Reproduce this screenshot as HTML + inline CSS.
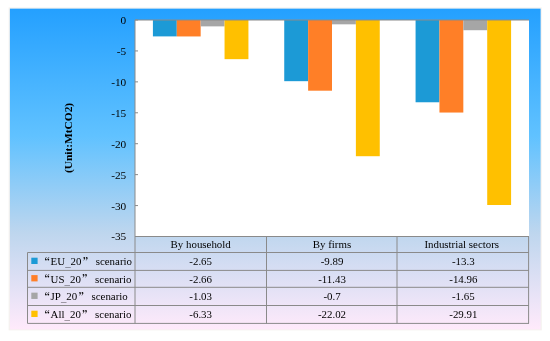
<!DOCTYPE html>
<html><head><meta charset="utf-8"><title>chart</title>
<style>
html,body{margin:0;padding:0;background:#fff;}
body{width:550px;height:341px;overflow:hidden;position:relative;}
svg{position:absolute;left:0;top:0;display:block;}
text{font-family:"Liberation Serif","Noto Serif CJK SC",serif;font-size:10.9px;fill:#000;}
.q{font-family:"Noto Serif CJK SC","Liberation Serif",serif;font-weight:bold;}
.b{font-weight:bold;}
</style></head><body>
<svg width="550" height="341" viewBox="0 0 550 341">
<defs>
<linearGradient id="bg" x1="0" y1="0" x2="0" y2="1">
<stop offset="0" stop-color="#24a0ff"/>
<stop offset="0.4" stop-color="#61c2ff"/>
<stop offset="0.7" stop-color="#bed6ee"/>
<stop offset="1" stop-color="#ffeafb"/>
</linearGradient>
</defs>
<rect x="8.6" y="7.4" width="533.2" height="323" fill="#f5f2ef"/>
<rect x="9.9" y="8.65" width="530.7" height="320.75" fill="url(#bg)"/>

<rect x="135" y="20" width="394" height="216.5" fill="#fff"/>
<rect x="152.91" y="20" width="23.88" height="16.39" fill="#1c9ad6"/>
<rect x="176.79" y="20" width="23.88" height="16.45" fill="#ff7f27"/>
<rect x="200.67" y="20" width="23.88" height="6.37" fill="#a6a6a6"/>
<rect x="224.55" y="20" width="23.88" height="39.16" fill="#ffc000"/>
<rect x="284.24" y="20" width="23.88" height="61.18" fill="#1c9ad6"/>
<rect x="308.12" y="20" width="23.88" height="70.70" fill="#ff7f27"/>
<rect x="332.00" y="20" width="23.88" height="4.33" fill="#a6a6a6"/>
<rect x="355.88" y="20" width="23.88" height="136.21" fill="#ffc000"/>
<rect x="415.58" y="20" width="23.88" height="82.27" fill="#1c9ad6"/>
<rect x="439.45" y="20" width="23.88" height="92.54" fill="#ff7f27"/>
<rect x="463.33" y="20" width="23.88" height="10.21" fill="#a6a6a6"/>
<rect x="487.21" y="20" width="23.88" height="185.01" fill="#ffc000"/>
<g stroke="#8a8a8a" stroke-width="1" fill="none">
<line x1="135" y1="20" x2="529" y2="20"/>
<line x1="135" y1="20" x2="135" y2="323.4"/>
<line x1="135" y1="20.00" x2="138" y2="20.00"/>
<line x1="135" y1="50.93" x2="138" y2="50.93"/>
<line x1="135" y1="81.86" x2="138" y2="81.86"/>
<line x1="135" y1="112.79" x2="138" y2="112.79"/>
<line x1="135" y1="143.71" x2="138" y2="143.71"/>
<line x1="135" y1="174.64" x2="138" y2="174.64"/>
<line x1="135" y1="205.57" x2="138" y2="205.57"/>
<line x1="135" y1="236.50" x2="138" y2="236.50"/>
<line x1="135" y1="236.5" x2="529" y2="236.5"/>
<line x1="27.5" y1="252.5" x2="529" y2="252.5"/>
<line x1="27.5" y1="270.4" x2="529" y2="270.4"/>
<line x1="27.5" y1="287.3" x2="529" y2="287.3"/>
<line x1="27.5" y1="305.5" x2="529" y2="305.5"/>
<line x1="27.5" y1="323.4" x2="529" y2="323.4"/>
<line x1="27.5" y1="252.5" x2="27.5" y2="323.4"/>
<line x1="266.50" y1="236.5" x2="266.50" y2="323.4"/>
<line x1="397.00" y1="236.5" x2="397.00" y2="323.4"/>
<line x1="528.60" y1="236.5" x2="528.60" y2="323.4"/>
</g>
<text x="126.2" y="23.95" text-anchor="end" style="font-size:11.3px">0</text>
<text x="126.2" y="54.88" text-anchor="end" style="font-size:11.3px">-5</text>
<text x="126.2" y="85.81" text-anchor="end" style="font-size:11.3px">-10</text>
<text x="126.2" y="116.74" text-anchor="end" style="font-size:11.3px">-15</text>
<text x="126.2" y="147.66" text-anchor="end" style="font-size:11.3px">-20</text>
<text x="126.2" y="178.59" text-anchor="end" style="font-size:11.3px">-25</text>
<text x="126.2" y="209.52" text-anchor="end" style="font-size:11.3px">-30</text>
<text x="126.2" y="240.45" text-anchor="end" style="font-size:11.3px">-35</text>
<text class="b" transform="translate(72,138) rotate(-90)" text-anchor="middle" style="font-size:11.4px">(Unit:MtCO2)</text>
<text x="200.67" y="248.30" text-anchor="middle">By household</text>
<text x="332.00" y="248.30" text-anchor="middle">By firms</text>
<text x="461.73" y="248.30" text-anchor="middle">Industrial sectors</text>
<rect x="31.3" y="257.70" width="6.3" height="6.3" fill="#1c9ad6"/>
<text x="39.2" y="265.15"><tspan class="q" dy="1.6">“</tspan><tspan dy="-1.6" dx="0.5">EU</tspan><tspan dy="1.0" fill-opacity="0.65">_</tspan><tspan dy="-1.0">20</tspan><tspan class="q" dy="1.6" dx="0.9">”</tspan><tspan dy="-1.6" dx="-0.3"> scenario</tspan></text>
<text x="200.67" y="265.15" text-anchor="middle">-2.65</text>
<text x="332.00" y="265.15" text-anchor="middle">-9.89</text>
<text x="463.33" y="265.15" text-anchor="middle">-13.3</text>
<rect x="31.3" y="275.10" width="6.3" height="6.3" fill="#ff7f27"/>
<text x="39.2" y="282.55"><tspan class="q" dy="1.6">“</tspan><tspan dy="-1.6" dx="0.5">US</tspan><tspan dy="1.0" fill-opacity="0.65">_</tspan><tspan dy="-1.0">20</tspan><tspan class="q" dy="1.6" dx="0.9">”</tspan><tspan dy="-1.6" dx="-0.3"> scenario</tspan></text>
<text x="200.67" y="282.55" text-anchor="middle">-2.66</text>
<text x="332.00" y="282.55" text-anchor="middle">-11.43</text>
<text x="463.33" y="282.55" text-anchor="middle">-14.96</text>
<rect x="31.3" y="292.65" width="6.3" height="6.3" fill="#a6a6a6"/>
<text x="39.2" y="300.10"><tspan class="q" dy="1.6">“</tspan><tspan dy="-1.6" dx="0.5">JP</tspan><tspan dy="1.0" fill-opacity="0.65">_</tspan><tspan dy="-1.0">20</tspan><tspan class="q" dy="1.6" dx="0.9">”</tspan><tspan dy="-1.6" dx="-0.3"> scenario</tspan></text>
<text x="200.67" y="300.10" text-anchor="middle">-1.03</text>
<text x="332.00" y="300.10" text-anchor="middle">-0.7</text>
<text x="463.33" y="300.10" text-anchor="middle">-1.65</text>
<rect x="31.3" y="310.70" width="6.3" height="6.3" fill="#ffc000"/>
<text x="39.2" y="318.15"><tspan class="q" dy="1.6">“</tspan><tspan dy="-1.6" dx="0.5">All</tspan><tspan dy="1.0" fill-opacity="0.65">_</tspan><tspan dy="-1.0">20</tspan><tspan class="q" dy="1.6" dx="0.9">”</tspan><tspan dy="-1.6" dx="-0.3"> scenario</tspan></text>
<text x="200.67" y="318.15" text-anchor="middle">-6.33</text>
<text x="332.00" y="318.15" text-anchor="middle">-22.02</text>
<text x="463.33" y="318.15" text-anchor="middle">-29.91</text>
</svg></body></html>
